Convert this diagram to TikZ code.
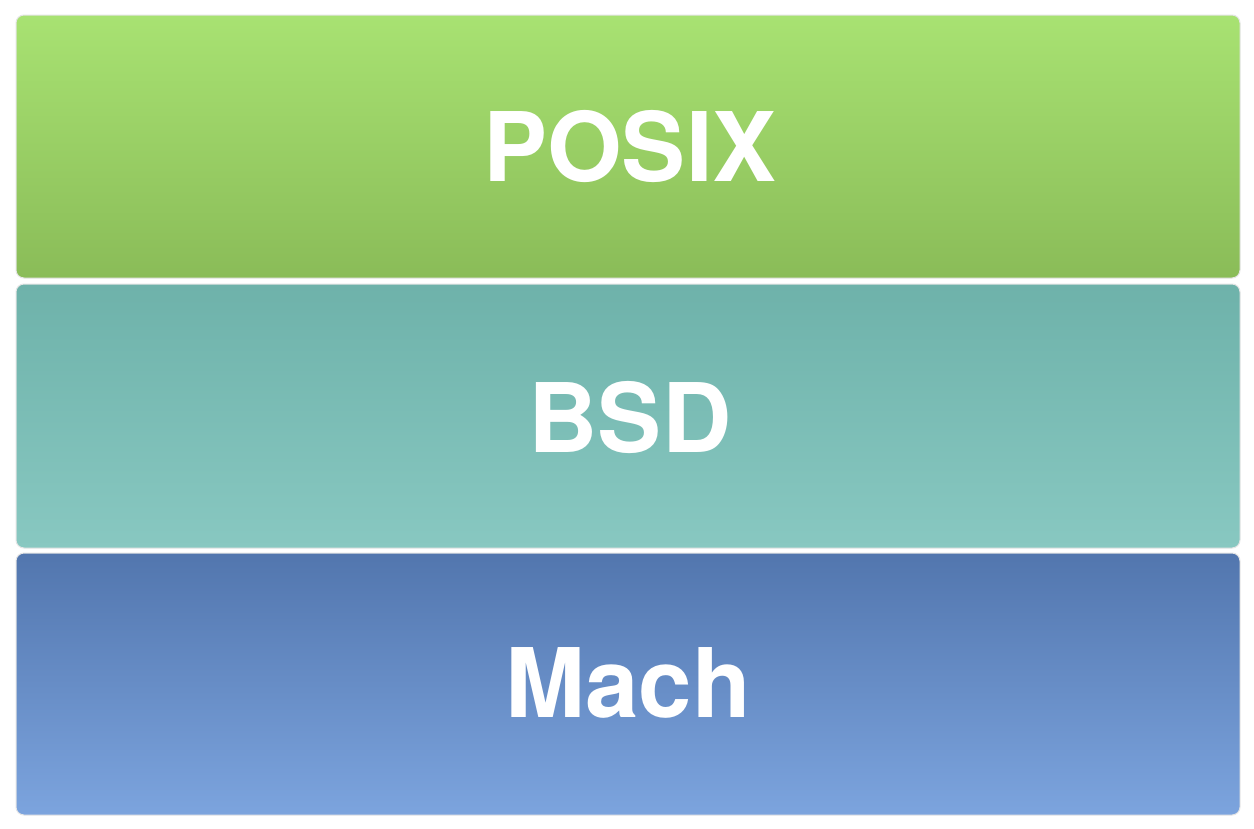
\documentclass[tikz,border=0pt]{standalone}
\usepackage{fontspec}
\setmainfont{TeX Gyre Heros}
\begin{document}
\begin{tikzpicture}[x=1pt,y=-1pt,
  layer/.style={rounded corners=8pt,draw=white!80!gray,line width=1pt},
  lbl/.style={text=white,font=\fontsize{96}{100}\selectfont\bfseries,inner sep=0pt}]
\useasboundingbox (0,0) rectangle (1254,828);
\fill[white] (0,0) rectangle (1254,828);
\shade[layer,top color={rgb,255:red,168;green,226;blue,114},bottom color={rgb,255:red,138;green,188;blue,88}] (16,15) rectangle (1240,278);
\shade[layer,top color={rgb,255:red,110;green,178;blue,170},bottom color={rgb,255:red,136;green,200;blue,193}] (16,284) rectangle (1240,548);
\shade[layer,top color={rgb,255:red,82;green,118;blue,174},bottom color={rgb,255:red,124;green,164;blue,222}] (16,553) rectangle (1240,815);
\node[lbl] (posix) at (630,147) {POSIX};
\node[lbl] (bsd) at (630,418) {BSD};
\node[lbl] (mach) at (628,683) {Mach};
\end{tikzpicture}
\end{document}
